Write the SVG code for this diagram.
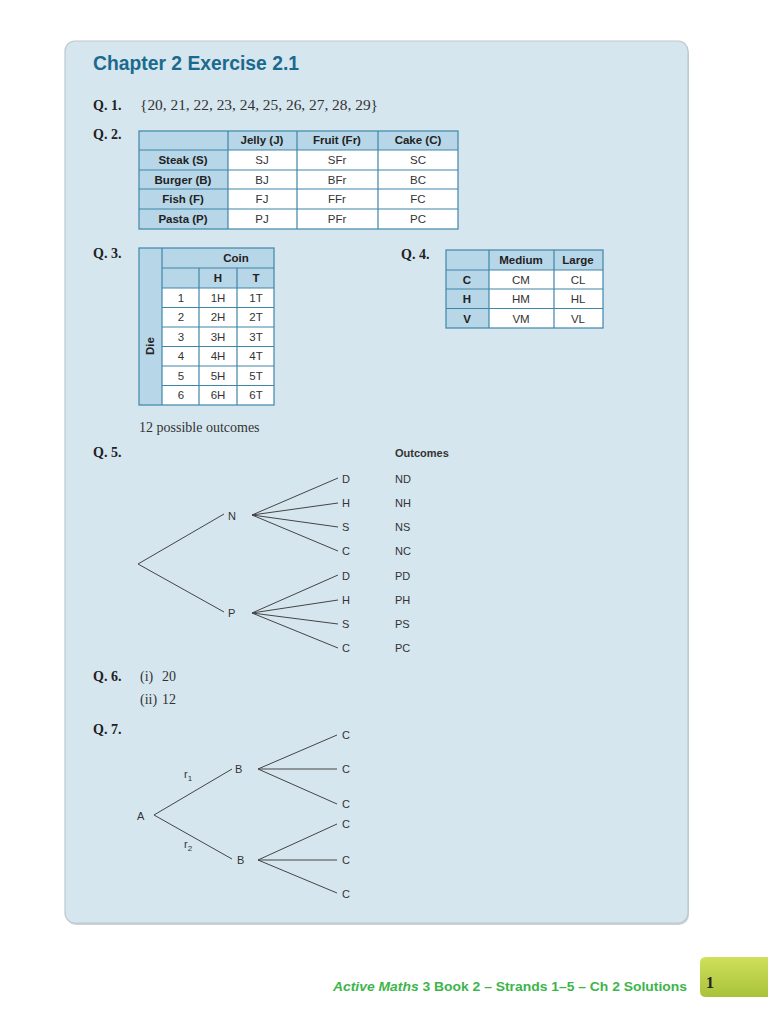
<svg xmlns="http://www.w3.org/2000/svg" width="768" height="1024" viewBox="0 0 768 1024">
<style>
.q{font-family:"Liberation Serif",serif;font-weight:bold;font-size:14px;fill:#222}
.s{font-family:"Liberation Serif",serif;font-size:14px;fill:#333}
.t{font-family:"Liberation Sans",Arial,sans-serif;font-size:11.5px;fill:#333;text-anchor:middle}
.tb{font-family:"Liberation Sans",Arial,sans-serif;font-size:11.5px;font-weight:bold;fill:#222;text-anchor:middle}
.h{fill:#b7d6e8}
.c{fill:#ffffff}
.g{stroke:#3f86a8;stroke-width:1.2;fill:none}
.ln{stroke:#444;stroke-width:1;fill:none}
.lb{font-family:"Liberation Sans",Arial,sans-serif;font-size:11px;fill:#333}
</style>
<defs>
<linearGradient id="tab" x1="0" y1="0" x2="0" y2="1">
<stop offset="0" stop-color="#cfe05a"/><stop offset="1" stop-color="#a9c23a"/>
</linearGradient>
</defs>
<rect width="768" height="1024" fill="#ffffff"/>
<rect x="66" y="43" width="623" height="882" rx="10" fill="#c9d3d8"/>
<rect x="65" y="41" width="623" height="882" rx="10" fill="#d6e6ef" stroke="#bcc8ce" stroke-width="1.2"/>
<text x="93" y="70" font-family="Liberation Sans,Arial,sans-serif" font-weight="bold" font-size="20" fill="#1b6a8e" textLength="206" lengthAdjust="spacingAndGlyphs">Chapter 2 Exercise 2.1</text>

<g id="q1">
<text class="q" x="93" y="110">Q. 1.</text>
<text class="s" x="140" y="110" textLength="238" lengthAdjust="spacingAndGlyphs">{20, 21, 22, 23, 24, 25, 26, 27, 28, 29}</text>
</g>

<g id="q2">
<text class="q" x="93" y="139">Q. 2.</text>
<rect class="h" x="139" y="131" width="319" height="19"/>
<rect class="h" x="139" y="150" width="89" height="79"/>
<rect class="c" x="228" y="150" width="230" height="79"/>
<rect class="g" x="139" y="131" width="319" height="98"/>
<path class="g" d="M139 150H458M139 170H458M139 189H458M139 209H458M228 131V229M297 131V229M378 131V229"/>
<text class="tb" x="262" y="144">Jelly (J)</text>
<text class="tb" x="337" y="144">Fruit (Fr)</text>
<text class="tb" x="418" y="144">Cake (C)</text>
<text class="tb" x="183" y="164">Steak (S)</text>
<text class="tb" x="183" y="184">Burger (B)</text>
<text class="tb" x="183" y="203">Fish (F)</text>
<text class="tb" x="183" y="223">Pasta (P)</text>
<text class="t" x="262" y="164">SJ</text><text class="t" x="337" y="164">SFr</text><text class="t" x="418" y="164">SC</text>
<text class="t" x="262" y="184">BJ</text><text class="t" x="337" y="184">BFr</text><text class="t" x="418" y="184">BC</text>
<text class="t" x="262" y="203">FJ</text><text class="t" x="337" y="203">FFr</text><text class="t" x="418" y="203">FC</text>
<text class="t" x="262" y="223">PJ</text><text class="t" x="337" y="223">PFr</text><text class="t" x="418" y="223">PC</text>
</g>

<g id="q3">
<text class="q" x="93" y="258">Q. 3.</text>
<rect class="h" x="139" y="248" width="135" height="40"/>
<rect class="h" x="139" y="288" width="23" height="117"/>
<rect class="c" x="162" y="288" width="112" height="117"/>
<rect class="g" x="139" y="248" width="135" height="157"/>
<path class="g" d="M162 248V405M162 268H274M162 288H274M162 307.5H274M162 327H274M162 346.5H274M162 366H274M162 385.5H274M199 268V405M237 268V405"/>
<text class="tb" x="236" y="262">Coin</text>
<text class="tb" x="218" y="282">H</text>
<text class="tb" x="256" y="282">T</text>
<text class="tb" transform="translate(154 346) rotate(-90)">Die</text>
<text class="t" x="181" y="302">1</text><text class="t" x="218" y="302">1H</text><text class="t" x="256" y="302">1T</text>
<text class="t" x="181" y="321">2</text><text class="t" x="218" y="321">2H</text><text class="t" x="256" y="321">2T</text>
<text class="t" x="181" y="341">3</text><text class="t" x="218" y="341">3H</text><text class="t" x="256" y="341">3T</text>
<text class="t" x="181" y="360">4</text><text class="t" x="218" y="360">4H</text><text class="t" x="256" y="360">4T</text>
<text class="t" x="181" y="380">5</text><text class="t" x="218" y="380">5H</text><text class="t" x="256" y="380">5T</text>
<text class="t" x="181" y="399">6</text><text class="t" x="218" y="399">6H</text><text class="t" x="256" y="399">6T</text>
<text class="s" x="139" y="432" font-size="13.5">12 possible outcomes</text>
</g>

<g id="q4">
<text class="q" x="401" y="259">Q. 4.</text>
<rect class="h" x="446" y="250" width="157" height="20"/>
<rect class="h" x="446" y="270" width="43" height="58"/>
<rect class="c" x="489" y="270" width="114" height="58"/>
<rect class="g" x="446" y="250" width="157" height="78"/>
<path class="g" d="M446 270H603M446 289H603M446 308.5H603M489 250V328M554 250V328"/>
<text class="tb" x="521" y="264">Medium</text>
<text class="tb" x="578" y="264">Large</text>
<text class="tb" x="467" y="284">C</text><text class="tb" x="467" y="303">H</text><text class="tb" x="467" y="323">V</text>
<text class="t" x="521" y="284">CM</text><text class="t" x="578" y="284">CL</text>
<text class="t" x="521" y="303">HM</text><text class="t" x="578" y="303">HL</text>
<text class="t" x="521" y="323">VM</text><text class="t" x="578" y="323">VL</text>
</g>

<g id="q5">
<text class="q" x="93" y="457">Q. 5.</text>
<text class="lb" x="395" y="457" font-weight="bold" fill="#222">Outcomes</text>
<g id="q5-connectors">
<path class="ln" d="M138 564L224 514M138 564L224 612M252 515L338 478M252 515L338 503M252 515L338 527M252 515L338 551M252 613L338 575M252 613L338 600M252 613L338 624M252 613L338 648"/>
</g>
<text class="lb" x="228" y="520">N</text>
<text class="lb" x="228" y="617">P</text>
<text class="lb" x="342" y="483">D</text><text class="lb" x="342" y="507">H</text><text class="lb" x="342" y="531">S</text><text class="lb" x="342" y="555">C</text>
<text class="lb" x="342" y="580">D</text><text class="lb" x="342" y="604">H</text><text class="lb" x="342" y="628">S</text><text class="lb" x="342" y="652">C</text>
<text class="lb" x="395" y="483">ND</text><text class="lb" x="395" y="507">NH</text><text class="lb" x="395" y="531">NS</text><text class="lb" x="395" y="555">NC</text>
<text class="lb" x="395" y="580">PD</text><text class="lb" x="395" y="604">PH</text><text class="lb" x="395" y="628">PS</text><text class="lb" x="395" y="652">PC</text>
</g>

<g id="q6">
<text class="q" x="93" y="681">Q. 6.</text>
<text class="s" x="140" y="681" font-size="13.5" fill="#555">(i)</text>
<text class="s" x="162" y="681" font-size="13.5">20</text>
<text class="s" x="140" y="704" font-size="13.5" fill="#555">(ii)</text>
<text class="s" x="162" y="704" font-size="13.5">12</text>
</g>

<g id="q7">
<text class="q" x="93" y="734">Q. 7.</text>
<g id="q7-connectors">
<path class="ln" d="M154 815L232 769M154 815L232 859M258 769L337 735M258 769L337 769M258 769L337 804M258 860L337 824M258 860L337 860M258 860L337 893"/>
</g>
<text class="lb" x="137" y="820">A</text>
<text class="lb" x="235" y="773">B</text>
<text class="lb" x="237" y="864">B</text>
<text class="lb" x="184" y="778">r<tspan font-size="8" dy="3">1</tspan></text>
<text class="lb" x="184" y="848">r<tspan font-size="8" dy="3">2</tspan></text>
<text class="lb" x="342" y="739">C</text><text class="lb" x="342" y="773">C</text><text class="lb" x="342" y="808">C</text>
<text class="lb" x="342" y="828">C</text><text class="lb" x="342" y="864">C</text><text class="lb" x="342" y="898">C</text>
</g>

<g id="footer">
<text x="333" y="991" font-family="Liberation Sans,Arial,sans-serif" font-weight="bold" font-size="12.5" fill="#3cb54a" textLength="354" lengthAdjust="spacingAndGlyphs"><tspan font-style="italic">Active Maths</tspan> 3 Book 2 – Strands 1–5 – Ch 2 Solutions</text>
<path d="M706 957H768V997H706Q700 997 700 991V963Q700 957 706 957Z" fill="url(#tab)"/>
<text x="706" y="988" font-family="Liberation Serif,serif" font-weight="bold" font-size="16" fill="#222">1</text>
</g>
</svg>
